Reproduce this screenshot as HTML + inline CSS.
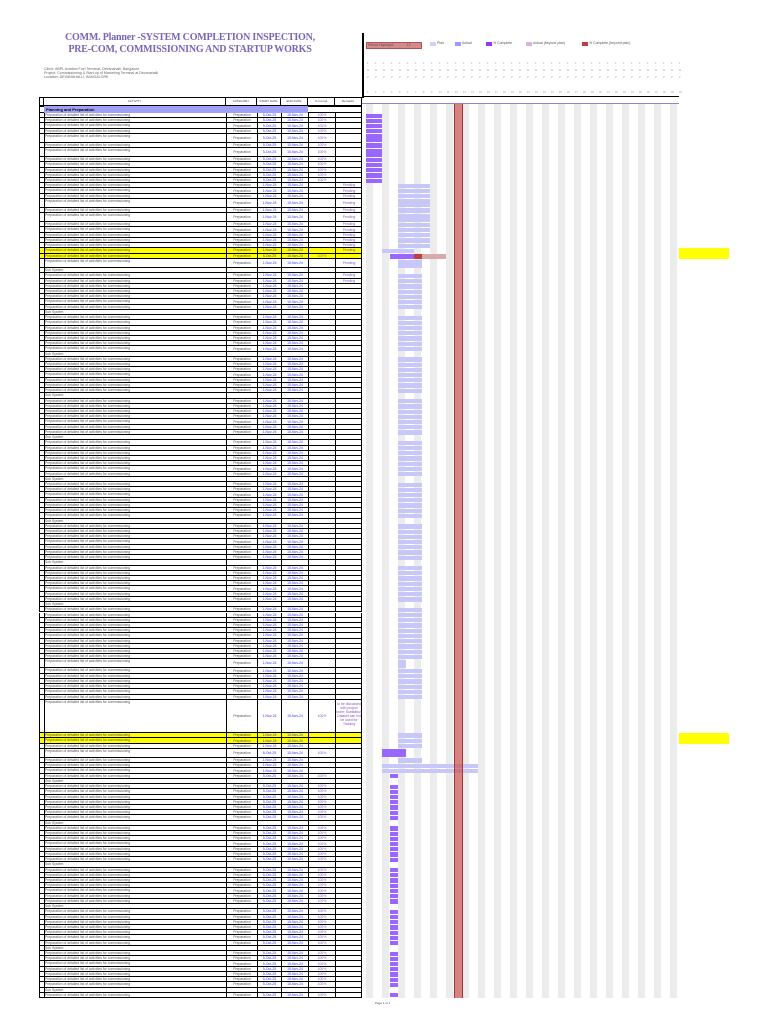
<!DOCTYPE html>
<html><head><meta charset="utf-8">
<style>
body{margin:0;width:768px;height:1024px;background:#fff;position:relative;overflow:hidden;font-family:"Liberation Sans",sans-serif}
.a{position:absolute;box-sizing:border-box}
.title{left:40px;top:32px;width:300px;text-align:center;font-family:"Liberation Serif",serif;font-weight:bold;color:#7b64b4;font-size:10px;line-height:12px;letter-spacing:-0.2px}
.info{left:44px;top:67px;font-size:3.6px;color:#666;line-height:4.2px}
.lg{font-size:3.5px;color:#555;top:41px}
.tx{font-size:3.4px;color:#555;white-space:nowrap;overflow:hidden;line-height:5px}
</style></head><body>
<div class="a title">COMM. Planner -SYSTEM COMPLETION INSPECTION,<br>PRE-COM, COMMISSIONING AND STARTUP WORKS</div>
<div class="a info">Client: ABPL Aviation Fuel Terminal, Devanahalli, Bangalore<br>Project: Commissioning &amp; Start-up of Marketing Terminal at Devanahalli<br>Location: DEVANAHALLI, BANGALORE</div>
<div class="a" style="left:362px;top:33px;width:1.5px;height:65px;background:#000"></div>
<div class="a" style="left:362px;top:96px;width:317px;height:1px;background:#000"></div>
<div class="a lg" style="left:366px;top:42px;width:56px;height:7px;background:#d48a8a;border:1px solid #b05050;padding-left:1px">Period Highlight: <span style="margin-left:12px">12</span></div>
<div class="a lg" style="left:430px;width:6px;height:4px;background:#d0d0ff;top:42px"></div><div class="a lg" style="left:437px">Plan</div>
<div class="a lg" style="left:455px;width:6px;height:4px;background:#9a9aff;top:42px"></div><div class="a lg" style="left:462px">Actual</div>
<div class="a lg" style="left:486px;width:6px;height:4px;background:#9933ff;top:42px"></div><div class="a lg" style="left:493px">% Complete</div>
<div class="a lg" style="left:526px;width:6px;height:4px;background:#d8b4d8;top:42px"></div><div class="a lg" style="left:533px">Actual (beyond plan)</div>
<div class="a lg" style="left:582px;width:6px;height:4px;background:#c04040;top:42px"></div><div class="a lg" style="left:589px">% Complete (beyond plan)</div>
<div id="root"></div>
<script>
// segments: kind, count, barStart, barEnd, barType
const segKinds  = ['sec','t','t2','t','t2','t','t','t2','t','t2','t','y','ya'];
const segCounts = [1,4,1,1,1,5,3,1,1,1,5,1,1];
const segStart  = [0,0,0,0,0,0,2,2,2,2,2,1,1.5];
const segEnd    = [0,1,1,1,1,1,4,4,4,4,4,3,3];
const segType   = ['','act','act','act','act','act','plan','plan','plan','plan','plan','plan','act'];
const groupCount = 9;
const tailKinds  = ['t','t2','t','big','y','y','t','t2','t','w','w','t'];
const tailStart  = [2,2,2,0,2,2,2,1,2,1,1,1.5];
const tailEnd    = [3.5,2.5,3.5,0,3.5,3.5,3.5,2.5,3.5,7,7,2];
const tailType   = ['plan','plan','plan','','plan','plan','plan','act','plan','plan','plan','act'];
const tailCounts = [3,1,6,1,1,1,1,1,1,1,1,1];
const purpleGroups = 5;

const rows=[];
segKinds.forEach((k,i)=>{for(let j=0;j<segCounts[i];j++)rows.push({k,s:segStart[i],e:segEnd[i],t:segType[i]});});
rows.push({k:'t2',s:2,e:3.5,t:'plan'});
for(let g=0;g<groupCount;g++){rows.push({k:'sub'});for(let j=0;j<7;j++)rows.push({k:'t',s:2,e:3.5,t:'plan'});}
tailKinds.forEach((k,i)=>{for(let j=0;j<tailCounts[i];j++)rows.push({k,s:tailStart[i],e:tailEnd[i],t:tailType[i]});});
for(let g=0;g<purpleGroups;g++){rows.push({k:'sub'});for(let j=0;j<7;j++)rows.push({k:'t',s:1.5,e:2,t:'pct'});}
rows.push({k:'sub'});rows.push({k:'t',s:1.5,e:2,t:'pct'});

const H={sec:7,t:5.2,t2:9,y:5.4,ya:5.4,sub:5.2,big:33,w:5.2};
const top0=106,bottom=998;
let tot=0;rows.forEach(r=>tot+=H[r.k]);
const sc=(bottom-top0)/tot;
const root=document.getElementById('root');
const colX=c=>366+c*16;
function mk(css,name,inter,txt,cls){const d=document.createElement('div');d.className='a '+(cls||'');d.style.cssText=css;


if(txt)d.textContent=txt;root.appendChild(d);return d;}
for(let c=0;c<20;c++){
 mk(`left:${colX(c)}px;top:104px;width:7px;height:${bottom-104}px;background:#ececec`,'day-stripe',false);
}
mk(`left:362px;top:103px;width:317px;height:1px;background:#9b7fd0`,'gantt-header-line',false);
for(let c=0;c<40;c++){
 mk(`left:${367+c*8}px;top:62px;width:2px;font-size:2.6px;line-height:3.4px;color:#999;word-break:break-all`,'date-tick',false,'1-N-2');
 mk(`left:${367+c*8}px;top:91px;font-size:2.4px;color:#999`,'day-number',false,String(c+1));
}
const cols=[39,44,226,257,281,308,335,362];
const heads=['','ACTIVITY','CATEGORY','START DATE','END DATE','% Compl','Remarks'];
mk(`left:39px;top:97px;width:323px;height:9px;border:1px solid #000`,'table-header',false);
heads.forEach((h,i)=>mk(`left:${cols[i]}px;top:97px;width:${cols[i+1]-cols[i]}px;height:9px;border-right:1px solid #000;font-size:3px;text-align:center;line-height:9px;color:#444`,'header-'+(h||'num').toLowerCase().replace(/[^a-z]/g,''),false,h));
let y=top0;
rows.forEach((r,i)=>{
 const h=H[r.k]*sc;
 if(r.k==='sec'){
  mk(`left:39px;top:${y}px;width:323px;height:${h}px;border:1px solid #000`,'section-row',false);
  mk(`left:44px;top:${y}px;width:264px;height:${h}px;background:#a0a0f8;font-size:4px;font-weight:bold;line-height:${h}px;padding-left:2px`,'section-title',false,'Planning and Preparation');
 } else {
  const yl=(r.k==='y'||r.k==='ya');
  mk(`left:39px;top:${y}px;width:323px;height:${h}px;border:1px solid #000;border-top:none;border-bottom-width:1.3px;${yl?'background:#ffff00;':''}`,'task-row',true);
  cols.slice(1,7).forEach(cx=>mk(`left:${cx}px;top:${y}px;width:1.2px;height:${h}px;background:#000`,'cell-border',false));
  mk(`left:45px;top:${y}px;width:180px;height:${h}px`,'activity-name',false,r.k==='sub'?'Sub System':'Preparation of detailed list of activities for commissioning','tx');
  if(r.k!=='sub'){
   mk(`left:227px;top:${y+(h-5)/2}px;width:30px;text-align:center`,'category',false,'Preparation','tx');
   mk(`left:258px;top:${y+(h-5)/2}px;width:23px;text-align:center;color:#3333ff`,'start-date',false,r.t==='act'||r.t==='pct'?'5-Oct-25':'1-Nov-24','tx');
   mk(`left:282px;top:${y+(h-5)/2}px;width:26px;text-align:center;color:#3333ff`,'end-date',false,'15-Nov-24','tx');
   if(r.t!=='plan')mk(`left:309px;top:${y+(h-5)/2}px;width:26px;text-align:center;color:#8855cc`,'percent-complete',false,'100%','tx');
   else if(i<30)mk(`left:336px;top:${y+(h-5)/2}px;width:26px;text-align:center;color:#8855cc`,'status',false,'Pending','tx');
  }
  if(yl) mk(`left:679px;top:${y}px;width:50px;height:${h}px;background:#ffff00`,'highlight-marker',false);
  if(r.k==='big') mk(`left:336px;top:${y+2}px;width:26px;font-size:3.4px;text-align:center;color:#8855cc;line-height:4px`,'remark',false,'to be discussed with project team; Substation Dataset can not be used for Training');
  if(r.t&&r.e>r.s){
   const col={act:'#9966ff',pct:'#9966ff',plan:'#c8c8f8'}[r.t];
   mk(`left:${colX(r.s)}px;top:${y+0.5}px;width:${(r.e-r.s)*16}px;height:${h-1}px;background:${col}`,'gantt-bar',true);
   if(r.k==='ya'){
    mk(`left:${colX(r.e)}px;top:${y+0.5}px;width:8px;height:${h-1}px;background:#c04040`,'gantt-bar-late',true);
    mk(`left:${colX(r.e)+8}px;top:${y+0.5}px;width:24px;height:${h-1}px;background:#d8aaaa`,'gantt-bar-beyond',true);
   }
  }
 }
 y+=h;
});
mk(`left:454px;top:104px;width:9px;height:${bottom-104}px;background:rgba(200,90,90,0.75);border-left:1px solid #b03030;border-right:1px solid #b03030`,'period-highlight-column',false);
mk(`left:375px;top:1001px;font-size:3px;color:#555`,'page-number',false,'Page 1 of 1');
</script>
</body></html>
